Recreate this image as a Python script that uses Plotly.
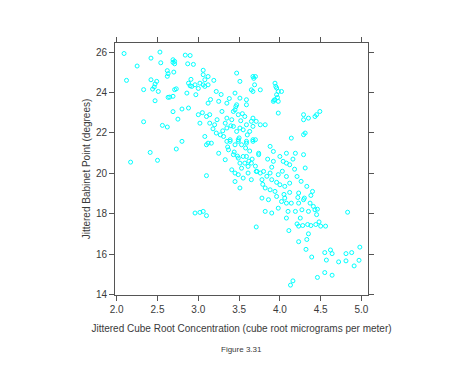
import plotly.graph_objects as go

# Jittered cube root concentration (x) and jittered Babinet point (y)
conc = [
    2.09, 2.53, 2.42, 2.25, 2.54, 2.69, 2.71, 2.69, 2.71, 2.84, 2.90, 2.87, 2.94,
    2.12, 2.42, 2.49, 2.47, 2.46, 2.44, 2.51, 2.33, 2.62, 2.63, 2.62, 2.70,
    2.47, 2.63, 2.65, 2.69, 2.73, 2.71, 2.69, 2.75, 2.33, 2.56, 2.62, 2.80,
    2.73, 2.41, 2.17, 2.50, 2.80, 3.06,
    3.71, 4.11, 4.21, 4.23, 4.28, 4.34, 4.38, 4.44, 4.48, 4.50, 4.56, 4.83,
    4.35, 4.23, 4.33, 4.32, 4.39, 4.55, 4.62, 4.64, 4.57, 4.72, 4.81, 4.81,
    4.88, 4.91, 4.97, 4.98, 4.46, 4.55, 4.64, 4.16, 4.13,
    2.88, 2.90, 2.96, 3.02, 3.06, 3.08, 3.12, 3.12, 3.06, 3.47, 3.67, 3.69,
    3.65, 3.51, 3.45, 3.51, 3.59, 3.22, 3.25, 3.12, 2.88, 3.35, 3.47, 3.45,
    3.59, 3.00, 3.10, 3.14, 3.29, 3.35, 3.43, 3.49, 3.41, 3.57, 3.67, 3.65,
    3.02, 3.14, 3.20, 3.33, 3.35, 3.43, 3.51, 3.59, 3.67, 3.47, 3.63, 3.08,
    3.22, 3.31, 3.39, 3.49, 3.59, 3.12, 3.35, 3.67,
    2.92, 3.08, 2.91, 2.86, 2.97,
    3.70, 3.76, 3.94, 3.96, 3.98, 3.96, 4.02, 3.92, 3.94, 3.98, 3.71, 3.76,
    3.82, 3.98, 4.29, 4.29, 4.35, 4.43, 4.45, 4.49, 4.29, 4.31, 4.14, 3.70,
    3.95, 3.97, 3.93, 3.68, 3.67,
    3.10, 3.16, 3.25, 3.33, 3.37, 3.39, 3.45, 3.49, 3.53, 3.59, 3.67, 3.43,
    3.49, 3.55, 3.59, 3.51, 3.57, 3.61, 3.65, 3.72, 3.41, 3.45, 3.49, 3.55,
    3.61, 3.65, 3.45, 3.51, 3.74, 3.10, 2.96, 3.02, 3.06, 3.10,
    3.88, 3.92, 3.74, 4.00, 4.08, 4.19, 4.29, 4.04, 4.08, 4.12, 3.92, 3.71,
    3.76, 3.80, 3.88, 3.78, 3.90, 3.98, 4.08, 4.21, 4.31, 4.00, 4.06, 4.12,
    3.82, 3.88, 3.94, 3.96, 4.06, 4.02, 4.08, 4.14, 4.23, 4.29, 4.33, 4.37,
    4.41, 3.78, 3.86, 3.98, 4.10, 4.19, 4.27, 4.35, 4.43, 4.45, 3.82, 3.90,
    4.25, 4.08, 4.23, 4.30, 4.46,
    3.52, 3.55, 3.60, 3.58, 3.63, 3.66, 3.48, 3.50, 3.54, 3.46,
    3.30, 3.27, 3.18, 3.23, 3.38, 3.40, 3.15, 3.05, 3.00, 3.19,
    3.28, 3.36, 3.44, 3.53, 3.62, 3.70, 3.85, 3.90, 4.03, 4.16,
    4.18, 4.26, 4.38, 4.40, 4.05, 3.96, 3.84, 3.79, 4.12, 4.22,
]
babinet = [
    25.93, 26.00, 25.70, 25.31, 25.47, 25.62, 25.54, 25.49, 25.42, 25.85, 25.83, 25.42, 25.39,
    24.60, 24.63, 24.55, 24.42, 24.27, 24.17, 24.05, 24.14, 25.08, 24.93, 24.80, 25.01,
    23.59, 23.76, 23.77, 23.81, 24.18, 24.14, 23.05, 22.68, 22.55, 22.37, 22.29, 21.58,
    21.20, 21.03, 20.55, 20.64, 23.18, 25.10,
    17.34, 17.16, 17.49, 17.38, 17.41, 17.46, 17.41, 17.46, 17.59, 17.38, 17.38, 18.07,
    17.00, 16.61, 16.72, 16.23, 15.85, 16.07, 16.20, 16.02, 15.70, 15.61, 16.02, 15.66,
    16.07, 15.41, 15.69, 16.34, 14.84, 15.08, 14.95, 14.67, 14.46,
    24.46, 24.33, 24.38, 24.46, 24.38, 24.30, 24.38, 24.79, 24.88, 24.96, 24.79, 24.38,
    24.13, 24.55, 23.97, 23.72, 23.64, 24.05, 23.56, 23.47, 23.23, 23.47, 23.39, 23.14,
    23.39, 22.90, 22.81, 22.90, 23.06, 22.73, 23.06, 22.90, 22.65, 22.81, 22.73, 22.57,
    22.48, 22.48, 22.40, 22.48, 22.24, 22.32, 22.24, 22.40, 22.32, 22.07, 22.07, 21.82,
    21.99, 21.82, 21.66, 21.66, 21.58, 21.49, 21.58, 21.66,
    24.30, 24.63, 24.65, 23.97, 23.89,
    24.79, 24.13, 24.46, 24.22, 24.05, 23.89, 24.05, 23.56, 23.64, 23.56, 22.57, 22.40,
    22.40, 22.98, 22.90, 22.65, 22.73, 22.81, 22.90, 23.06, 21.91, 21.99, 21.74, 21.66,
    24.30, 23.75, 23.62, 24.70, 24.05,
    21.41, 21.49, 20.99, 20.67, 21.16, 21.58, 21.41, 21.58, 21.41, 21.49, 21.58, 20.92,
    20.75, 20.83, 20.83, 20.50, 20.50, 20.34, 20.50, 20.09, 20.17, 20.01, 19.93, 19.76,
    20.01, 19.68, 19.59, 19.27, 20.92, 19.88, 18.03, 18.06, 18.11, 17.90,
    21.33, 21.08, 20.99, 20.83, 20.99, 20.99, 20.92, 20.59, 20.50, 20.42, 20.59, 20.09,
    20.01, 20.09, 20.01, 19.68, 19.68, 19.93, 19.84, 19.84, 20.26, 19.43, 19.35, 19.51,
    19.27, 19.18, 19.10, 18.85, 18.77, 18.60, 18.52, 18.52, 18.52, 18.69, 19.35, 18.52,
    18.36, 18.77, 18.69, 18.27, 18.11, 18.11, 18.19, 18.11, 18.19, 17.95, 18.11, 18.03,
    17.78, 17.78, 19.02, 18.77, 18.22,
    22.60, 22.15, 21.90, 21.25, 21.10, 20.70, 20.85, 21.75, 22.95, 23.30,
    22.10, 21.90, 22.20, 22.65, 23.70, 22.35, 23.65, 23.00, 24.20, 24.60,
    23.90, 21.30, 21.05, 20.25, 20.60, 20.35, 20.70, 20.30, 20.10, 20.70,
    20.20, 19.60, 18.90, 19.10, 18.95, 19.55, 19.85, 19.45, 19.05, 18.80,
]

x_ticks = [2.0, 2.5, 3.0, 3.5, 4.0, 4.5, 5.0]
x_tick_labels = ["2.0", "2.5", "3.0", "3.5", "4.0", "4.5", "5.0"]
y_ticks = [14, 16, 18, 20, 22, 24, 26]

axis_col = "#555555"
text_col = "#3a3a3a"

fig = go.Figure(
    go.Scatter(
        x=conc,
        y=babinet,
        mode="markers",
        marker=dict(symbol="circle-open", size=4, color="#00FFFF", line=dict(width=1, color="#00FFFF")),
        hoverinfo="x+y",
    )
)

fig.update_layout(
    width=474,
    height=365,
    margin=dict(l=107, r=114, t=35, b=78, autoexpand=False),
    paper_bgcolor="white",
    plot_bgcolor="white",
    showlegend=False,
    font=dict(family="Liberation Sans, Arial, sans-serif", size=10, color=text_col),
    annotations=[
        dict(
            text="Figure 3.31",
            xref="paper", yref="paper",
            x=0.5, y=-0.19,
            xanchor="center", yanchor="top",
            showarrow=False,
            font=dict(size=8, color=text_col),
        )
    ],
)

fig.update_xaxes(
    range=[1.979, 5.08],
    tickvals=x_ticks,
    ticktext=x_tick_labels,
    ticks="outside",
    ticklen=5,
    tickcolor=axis_col,
    showline=True,
    linecolor=axis_col,
    linewidth=1,
    mirror="ticks",
    showgrid=False,
    zeroline=False,
    automargin=False,
    title=dict(text="Jittered Cube Root Concentration (cube root micrograms per meter)", standoff=10, font=dict(size=10)),
)
fig.update_yaxes(
    range=[13.97, 26.45],
    tickvals=y_ticks,
    ticks="outside",
    ticklen=5,
    tickcolor=axis_col,
    showline=True,
    linecolor=axis_col,
    linewidth=1,
    mirror="ticks",
    showgrid=False,
    zeroline=False,
    automargin=False,
    title=dict(text="Jittered Babinet Point (degrees)", standoff=3, font=dict(size=10)),
)

fig.write_html("out.html")
